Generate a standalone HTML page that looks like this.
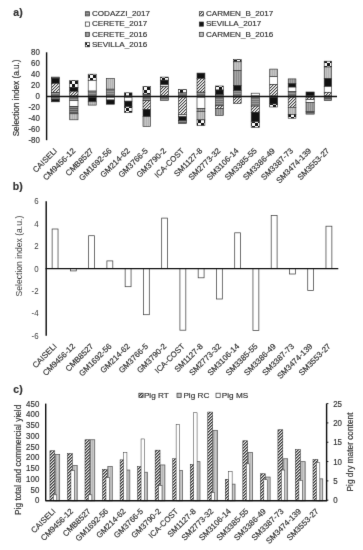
<!DOCTYPE html><html><head><meta charset="utf-8"><title>Selection index charts</title>
<style>html,body{margin:0;padding:0;background:#fff;}body{width:363px;height:550px;overflow:hidden;}svg{display:block;}text{font-family:"Liberation Sans", Arial, sans-serif;fill:#333;stroke:#333;stroke-width:0.18px;}text.lt{fill:#3c3c3c;stroke:none;}</style></head><body>
<svg width="363" height="550" viewBox="0 0 363 550">
<defs>
<pattern id="pH" patternUnits="userSpaceOnUse" width="3" height="3"><rect x="0" y="0" width="1" height="1" fill="#444"/><rect x="1" y="0" width="1" height="1" fill="#c4c4c4"/><rect x="2" y="0" width="1" height="1" fill="#f8f8f8"/><rect x="0" y="1" width="1" height="1" fill="#c4c4c4"/><rect x="1" y="1" width="1" height="1" fill="#f8f8f8"/><rect x="2" y="1" width="1" height="1" fill="#444"/><rect x="0" y="2" width="1" height="1" fill="#f8f8f8"/><rect x="1" y="2" width="1" height="1" fill="#444"/><rect x="2" y="2" width="1" height="1" fill="#c4c4c4"/></pattern><pattern id="pHc" patternUnits="userSpaceOnUse" width="3" height="3"><rect x="0" y="0" width="1" height="1" fill="#383838"/><rect x="1" y="0" width="1" height="1" fill="#8c8c8c"/><rect x="2" y="0" width="1" height="1" fill="#ececec"/><rect x="0" y="1" width="1" height="1" fill="#8c8c8c"/><rect x="1" y="1" width="1" height="1" fill="#ececec"/><rect x="2" y="1" width="1" height="1" fill="#383838"/><rect x="0" y="2" width="1" height="1" fill="#ececec"/><rect x="1" y="2" width="1" height="1" fill="#383838"/><rect x="2" y="2" width="1" height="1" fill="#8c8c8c"/></pattern>
<pattern id="pC" patternUnits="userSpaceOnUse" width="6" height="6">
  <rect width="6" height="6" fill="#fff"/><rect width="3" height="3" fill="#111"/><rect x="3" y="3" width="3" height="3" fill="#111"/>
</pattern>
<pattern id="pG" patternUnits="userSpaceOnUse" width="2" height="2">
  <rect width="2" height="2" fill="#989898"/><rect width="2" height="1" fill="#767676"/>
</pattern>
<pattern id="pM" patternUnits="userSpaceOnUse" width="2" height="2">
  <rect width="2" height="2" fill="#a6a6a6"/><rect width="1" height="2" fill="#8e8e8e"/>
</pattern>
<pattern id="pD" patternUnits="userSpaceOnUse" width="2" height="2">
  <rect width="2" height="2" fill="#8a8a8a"/><rect width="2" height="1" fill="#5a5a5a"/>
</pattern>
<pattern id="pL" patternUnits="userSpaceOnUse" width="2" height="2">
  <rect width="2" height="2" fill="#c4c4c4"/><rect width="1" height="2" fill="#b2b2b2"/>
</pattern>
<pattern id="pR" patternUnits="userSpaceOnUse" width="2" height="2">
  <rect width="2" height="2" fill="#cbcbcb"/><rect width="1" height="2" fill="#b8b8b8"/>
</pattern>
<filter id="soft" x="0" y="0" width="100%" height="100%" color-interpolation-filters="sRGB"><feConvolveMatrix order="3" kernelMatrix="0.0052 0.0619 0.0052 0.0619 0.7314 0.0619 0.0052 0.0619 0.0052" edgeMode="duplicate"/></filter></defs>
<rect width="363" height="550" fill="#fff"/>
<g filter="url(#soft)">
<rect width="363" height="550" fill="#fff"/>
<text x="13.3" y="16.3" font-size="10.5" font-weight="bold">a)</text>
<rect x="85.3" y="11.7" width="4.2" height="4.2" fill="url(#pG)" stroke="#333" stroke-width="0.7"/>
<text x="91.9" y="15.9" font-size="8.1">CODAZZI_2017</text>
<rect x="85.3" y="22" width="4.2" height="4.2" fill="#fff" stroke="#333" stroke-width="0.7"/>
<text x="91.9" y="26.2" font-size="8.1">CERETE_2017</text>
<rect x="85.3" y="32.3" width="4.2" height="4.2" fill="url(#pM)" stroke="#333" stroke-width="0.7"/>
<text x="91.9" y="36.5" font-size="8.1">CERETE_2016</text>
<rect x="85.3" y="42.6" width="4.2" height="4.2" fill="url(#pC)" stroke="#333" stroke-width="0.7"/>
<text x="91.9" y="46.8" font-size="8.1">SEVILLA_2016</text>
<rect x="199.3" y="11.7" width="4.2" height="4.2" fill="url(#pH)" stroke="#333" stroke-width="0.7"/>
<text x="205.9" y="15.9" font-size="8.1">CARMEN_B_2017</text>
<rect x="199.3" y="22" width="4.2" height="4.2" fill="#111" stroke="#333" stroke-width="0.7"/>
<text x="205.9" y="26.2" font-size="8.1">SEVILLA_2017</text>
<rect x="199.3" y="32.3" width="4.2" height="4.2" fill="url(#pL)" stroke="#333" stroke-width="0.7"/>
<text x="205.9" y="36.5" font-size="8.1">CARMEN_B_2016</text>
<text transform="translate(39.9,55.38) scale(0.92,1)" font-size="8.6" text-anchor="end">80</text>
<text transform="translate(39.9,66.37) scale(0.92,1)" font-size="8.6" text-anchor="end">60</text>
<text transform="translate(39.9,77.35) scale(0.92,1)" font-size="8.6" text-anchor="end">40</text>
<text transform="translate(39.9,88.34) scale(0.92,1)" font-size="8.6" text-anchor="end">20</text>
<text transform="translate(39.9,99.33) scale(0.92,1)" font-size="8.6" text-anchor="end">0</text>
<text transform="translate(39.9,110.32) scale(0.92,1)" font-size="8.6" text-anchor="end">-20</text>
<text transform="translate(39.9,121.3) scale(0.92,1)" font-size="8.6" text-anchor="end">-40</text>
<text transform="translate(39.9,132.29) scale(0.92,1)" font-size="8.6" text-anchor="end">-60</text>
<text transform="translate(39.9,143.28) scale(0.92,1)" font-size="8.6" text-anchor="end">-80</text>
<text transform="translate(19.2,97.9) rotate(-90)" font-size="8.2" text-anchor="middle">Selection index (a.u.)</text>
<rect x="51.4" y="77.1" width="7.9" height="1.1" fill="url(#pD)" stroke="#333" stroke-width="0.65"/>
<rect x="51.4" y="78.2" width="7.9" height="5.2" fill="#111" stroke="#333" stroke-width="0.65"/>
<rect x="51.4" y="83.4" width="7.9" height="9.1" fill="url(#pH)" stroke="#333" stroke-width="0.65"/>
<rect x="51.4" y="92.5" width="7.9" height="3.3" fill="url(#pG)" stroke="#333" stroke-width="0.65"/>
<rect x="51.4" y="97.2" width="7.9" height="2.1" fill="url(#pG)" stroke="#333" stroke-width="0.65"/>
<rect x="51.4" y="99.3" width="7.9" height="2.5" fill="#111" stroke="#333" stroke-width="0.65"/>
<rect x="69.7" y="80.4" width="8.3" height="7" fill="url(#pC)" stroke="#333" stroke-width="0.65"/>
<rect x="69.7" y="87.4" width="8.3" height="3.9" fill="#111" stroke="#333" stroke-width="0.65"/>
<rect x="69.7" y="91.3" width="8.3" height="4.5" fill="url(#pH)" stroke="#333" stroke-width="0.65"/>
<rect x="69.7" y="97.2" width="8.3" height="3.3" fill="url(#pG)" stroke="#333" stroke-width="0.65"/>
<rect x="69.7" y="100.5" width="8.3" height="6" fill="#fff" stroke="#333" stroke-width="0.65"/>
<rect x="69.7" y="106.5" width="8.3" height="7.3" fill="url(#pD)" stroke="#333" stroke-width="0.65"/>
<rect x="69.7" y="113.8" width="8.3" height="6" fill="url(#pL)" stroke="#333" stroke-width="0.65"/>
<rect x="88.2" y="74.2" width="8" height="6.1" fill="url(#pC)" stroke="#333" stroke-width="0.65"/>
<rect x="88.2" y="80.3" width="8" height="10.8" fill="#fff" stroke="#333" stroke-width="0.65"/>
<rect x="88.2" y="91.1" width="8" height="4.7" fill="url(#pG)" stroke="#333" stroke-width="0.65"/>
<rect x="88.2" y="97.2" width="8" height="4.6" fill="#111" stroke="#333" stroke-width="0.65"/>
<rect x="88.2" y="101.8" width="8" height="3.3" fill="url(#pL)" stroke="#333" stroke-width="0.65"/>
<rect x="106.3" y="78.4" width="8.1" height="10.8" fill="url(#pL)" stroke="#333" stroke-width="0.65"/>
<rect x="106.3" y="89.2" width="8.1" height="6.6" fill="url(#pG)" stroke="#333" stroke-width="0.65"/>
<rect x="106.3" y="97.2" width="8.1" height="2.8" fill="#fff" stroke="#333" stroke-width="0.65"/>
<rect x="106.3" y="100" width="8.1" height="4.2" fill="#111" stroke="#333" stroke-width="0.65"/>
<rect x="124.5" y="92.8" width="7.5" height="3" fill="url(#pC)" stroke="#333" stroke-width="0.65"/>
<rect x="124.5" y="97.2" width="7.5" height="4" fill="#fff" stroke="#333" stroke-width="0.65"/>
<rect x="124.5" y="101.2" width="7.5" height="5.6" fill="#111" stroke="#333" stroke-width="0.65"/>
<rect x="124.5" y="106.8" width="7.5" height="5.6" fill="url(#pC)" stroke="#333" stroke-width="0.65"/>
<rect x="143" y="86.5" width="7.4" height="7.7" fill="url(#pC)" stroke="#333" stroke-width="0.65"/>
<rect x="143" y="94.2" width="7.4" height="1.6" fill="url(#pG)" stroke="#333" stroke-width="0.65"/>
<rect x="143" y="97.2" width="7.4" height="3.5" fill="url(#pG)" stroke="#333" stroke-width="0.65"/>
<rect x="143" y="100.7" width="7.4" height="8.9" fill="url(#pH)" stroke="#333" stroke-width="0.65"/>
<rect x="143" y="109.6" width="7.4" height="7.1" fill="#111" stroke="#333" stroke-width="0.65"/>
<rect x="143" y="116.7" width="7.4" height="9.8" fill="url(#pL)" stroke="#333" stroke-width="0.65"/>
<rect x="160.3" y="77.1" width="8.1" height="3.1" fill="url(#pC)" stroke="#333" stroke-width="0.65"/>
<rect x="160.3" y="80.2" width="8.1" height="4.6" fill="#111" stroke="#333" stroke-width="0.65"/>
<rect x="160.3" y="84.8" width="8.1" height="2" fill="#fff" stroke="#333" stroke-width="0.65"/>
<rect x="160.3" y="86.8" width="8.1" height="9" fill="url(#pH)" stroke="#333" stroke-width="0.65"/>
<rect x="160.3" y="97.2" width="8.1" height="3.1" fill="url(#pG)" stroke="#333" stroke-width="0.65"/>
<rect x="178.6" y="89.5" width="7.9" height="3.4" fill="url(#pC)" stroke="#333" stroke-width="0.65"/>
<rect x="178.6" y="92.9" width="7.9" height="2.9" fill="url(#pG)" stroke="#333" stroke-width="0.65"/>
<rect x="178.6" y="97.2" width="7.9" height="17.6" fill="url(#pH)" stroke="#333" stroke-width="0.65"/>
<rect x="178.6" y="114.8" width="7.9" height="2" fill="#fff" stroke="#333" stroke-width="0.65"/>
<rect x="178.6" y="116.8" width="7.9" height="3.6" fill="#111" stroke="#333" stroke-width="0.65"/>
<rect x="178.6" y="120.4" width="7.9" height="3.1" fill="url(#pD)" stroke="#333" stroke-width="0.65"/>
<rect x="197" y="73.1" width="7.9" height="5.3" fill="#111" stroke="#333" stroke-width="0.65"/>
<rect x="197" y="78.4" width="7.9" height="13.8" fill="url(#pH)" stroke="#333" stroke-width="0.65"/>
<rect x="197" y="92.2" width="7.9" height="3.6" fill="url(#pG)" stroke="#333" stroke-width="0.65"/>
<rect x="197" y="97.2" width="7.9" height="11.4" fill="#fff" stroke="#333" stroke-width="0.65"/>
<rect x="197" y="108.6" width="7.9" height="2.8" fill="url(#pM)" stroke="#333" stroke-width="0.65"/>
<rect x="197" y="111.4" width="7.9" height="8.5" fill="url(#pL)" stroke="#333" stroke-width="0.65"/>
<rect x="197" y="119.9" width="7.9" height="5.6" fill="url(#pC)" stroke="#333" stroke-width="0.65"/>
<rect x="215.4" y="86" width="7.9" height="4" fill="url(#pC)" stroke="#333" stroke-width="0.65"/>
<rect x="215.4" y="90" width="7.9" height="4.5" fill="#111" stroke="#333" stroke-width="0.65"/>
<rect x="215.4" y="94.5" width="7.9" height="1.3" fill="url(#pG)" stroke="#333" stroke-width="0.65"/>
<rect x="215.4" y="97.2" width="7.9" height="8.6" fill="url(#pG)" stroke="#333" stroke-width="0.65"/>
<rect x="215.4" y="105.8" width="7.9" height="2.8" fill="url(#pH)" stroke="#333" stroke-width="0.65"/>
<rect x="215.4" y="108.6" width="7.9" height="6.8" fill="url(#pM)" stroke="#333" stroke-width="0.65"/>
<rect x="233.5" y="59.4" width="7.7" height="2.4" fill="url(#pC)" stroke="#333" stroke-width="0.65"/>
<rect x="233.5" y="61.8" width="7.7" height="8.9" fill="url(#pL)" stroke="#333" stroke-width="0.65"/>
<rect x="233.5" y="70.7" width="7.7" height="15" fill="url(#pM)" stroke="#333" stroke-width="0.65"/>
<rect x="233.5" y="85.7" width="7.7" height="5" fill="#111" stroke="#333" stroke-width="0.65"/>
<rect x="233.5" y="90.7" width="7.7" height="5.1" fill="url(#pG)" stroke="#333" stroke-width="0.65"/>
<rect x="233.5" y="97.2" width="7.7" height="6.2" fill="url(#pH)" stroke="#333" stroke-width="0.65"/>
<rect x="251.2" y="93.2" width="8.2" height="2.6" fill="#fff" stroke="#333" stroke-width="0.65"/>
<rect x="251.2" y="97.2" width="8.2" height="8.9" fill="url(#pG)" stroke="#333" stroke-width="0.65"/>
<rect x="251.2" y="106.1" width="8.2" height="6.2" fill="url(#pH)" stroke="#333" stroke-width="0.65"/>
<rect x="251.2" y="112.3" width="8.2" height="9.5" fill="#111" stroke="#333" stroke-width="0.65"/>
<rect x="251.2" y="121.8" width="8.2" height="5.5" fill="url(#pC)" stroke="#333" stroke-width="0.65"/>
<rect x="269.7" y="69.1" width="7.9" height="7.6" fill="url(#pL)" stroke="#333" stroke-width="0.65"/>
<rect x="269.7" y="76.7" width="7.9" height="7.7" fill="#fff" stroke="#333" stroke-width="0.65"/>
<rect x="269.7" y="84.4" width="7.9" height="11.4" fill="url(#pH)" stroke="#333" stroke-width="0.65"/>
<rect x="269.7" y="97.2" width="7.9" height="6.8" fill="#111" stroke="#333" stroke-width="0.65"/>
<rect x="269.7" y="104" width="7.9" height="3" fill="url(#pC)" stroke="#333" stroke-width="0.65"/>
<rect x="288.2" y="78.9" width="7.7" height="4.9" fill="url(#pM)" stroke="#333" stroke-width="0.65"/>
<rect x="288.2" y="83.8" width="7.7" height="3.3" fill="#111" stroke="#333" stroke-width="0.65"/>
<rect x="288.2" y="87.1" width="7.7" height="4.4" fill="#fff" stroke="#333" stroke-width="0.65"/>
<rect x="288.2" y="91.5" width="7.7" height="4.3" fill="url(#pG)" stroke="#333" stroke-width="0.65"/>
<rect x="288.2" y="97.2" width="7.7" height="10.1" fill="url(#pH)" stroke="#333" stroke-width="0.65"/>
<rect x="288.2" y="107.3" width="7.7" height="7.1" fill="url(#pL)" stroke="#333" stroke-width="0.65"/>
<rect x="288.2" y="114.4" width="7.7" height="3.8" fill="url(#pC)" stroke="#333" stroke-width="0.65"/>
<rect x="306" y="92" width="8.2" height="3.8" fill="#111" stroke="#333" stroke-width="0.65"/>
<rect x="306" y="97.2" width="8.2" height="2.4" fill="url(#pH)" stroke="#333" stroke-width="0.65"/>
<rect x="306" y="99.6" width="8.2" height="2.9" fill="#fff" stroke="#333" stroke-width="0.65"/>
<rect x="306" y="102.5" width="8.2" height="9.3" fill="url(#pM)" stroke="#333" stroke-width="0.65"/>
<rect x="306" y="111.8" width="8.2" height="2.3" fill="url(#pD)" stroke="#333" stroke-width="0.65"/>
<rect x="324.2" y="61.2" width="7.4" height="5.8" fill="url(#pC)" stroke="#333" stroke-width="0.65"/>
<rect x="324.2" y="67" width="7.4" height="11.7" fill="url(#pL)" stroke="#333" stroke-width="0.65"/>
<rect x="324.2" y="78.7" width="7.4" height="7.8" fill="#111" stroke="#333" stroke-width="0.65"/>
<rect x="324.2" y="86.5" width="7.4" height="5.8" fill="#fff" stroke="#333" stroke-width="0.65"/>
<rect x="324.2" y="92.3" width="7.4" height="3.5" fill="url(#pH)" stroke="#333" stroke-width="0.65"/>
<rect x="324.2" y="97.2" width="7.4" height="3.2" fill="url(#pD)" stroke="#333" stroke-width="0.65"/>
<line x1="46.6" y1="52.3" x2="46.6" y2="140.2" stroke="#111" stroke-width="1.45"/>
<line x1="46" y1="96.5" x2="337" y2="96.5" stroke="#111" stroke-width="1.45"/>
<text transform="translate(57.67,151.3) rotate(-45)" font-size="8" text-anchor="end">CAISELI</text>
<text transform="translate(75.83,151.3) rotate(-45)" font-size="8" text-anchor="end">CM9456-12</text>
<text transform="translate(93.97,151.3) rotate(-45)" font-size="8" text-anchor="end">CMB8527</text>
<text transform="translate(112.12,151.3) rotate(-45)" font-size="8" text-anchor="end">GM1692-56</text>
<text transform="translate(130.28,151.3) rotate(-45)" font-size="8" text-anchor="end">GM214-62</text>
<text transform="translate(148.42,151.3) rotate(-45)" font-size="8" text-anchor="end">GM3766-5</text>
<text transform="translate(166.57,151.3) rotate(-45)" font-size="8" text-anchor="end">GM3790-2</text>
<text transform="translate(184.72,151.3) rotate(-45)" font-size="8" text-anchor="end">ICA-COST</text>
<text transform="translate(202.87,151.3) rotate(-45)" font-size="8" text-anchor="end">SM1127-8</text>
<text transform="translate(221.02,151.3) rotate(-45)" font-size="8" text-anchor="end">SM2773-32</text>
<text transform="translate(239.17,151.3) rotate(-45)" font-size="8" text-anchor="end">SM3106-14</text>
<text transform="translate(257.32,151.3) rotate(-45)" font-size="8" text-anchor="end">SM3385-55</text>
<text transform="translate(275.47,151.3) rotate(-45)" font-size="8" text-anchor="end">SM3386-49</text>
<text transform="translate(293.62,151.3) rotate(-45)" font-size="8" text-anchor="end">SM3387-73</text>
<text transform="translate(311.77,151.3) rotate(-45)" font-size="8" text-anchor="end">SM3474-139</text>
<text transform="translate(329.93,151.3) rotate(-45)" font-size="8" text-anchor="end">SM3553-27</text>
<text x="12.8" y="190.3" font-size="10.5" font-weight="bold">b)</text>
<text class="lt" transform="translate(38.6,204.38) scale(0.92,1)" font-size="8.6" text-anchor="end">6</text>
<text class="lt" transform="translate(38.6,226.8) scale(0.92,1)" font-size="8.6" text-anchor="end">4</text>
<text class="lt" transform="translate(38.6,249.21) scale(0.92,1)" font-size="8.6" text-anchor="end">2</text>
<text class="lt" transform="translate(38.6,271.63) scale(0.92,1)" font-size="8.6" text-anchor="end">0</text>
<text class="lt" transform="translate(38.6,294.05) scale(0.92,1)" font-size="8.6" text-anchor="end">-2</text>
<text class="lt" transform="translate(38.6,316.46) scale(0.92,1)" font-size="8.6" text-anchor="end">-4</text>
<text class="lt" transform="translate(38.6,338.88) scale(0.92,1)" font-size="8.6" text-anchor="end">-6</text>
<text transform="translate(21.9,256.1) rotate(-90)" class="lt" font-size="8.6" text-anchor="middle">Selection index (a.u.)</text>
<rect x="52.13" y="229" width="5.9" height="39.6" fill="#fff" stroke="#444" stroke-width="0.75"/>
<rect x="70.38" y="268.6" width="5.9" height="2.3" fill="#fff" stroke="#444" stroke-width="0.75"/>
<rect x="88.64" y="235.7" width="5.9" height="32.9" fill="#fff" stroke="#444" stroke-width="0.75"/>
<rect x="106.9" y="260.9" width="5.9" height="7.7" fill="#fff" stroke="#444" stroke-width="0.75"/>
<rect x="125.15" y="268.6" width="5.9" height="18.1" fill="#fff" stroke="#444" stroke-width="0.75"/>
<rect x="143.41" y="268.6" width="5.9" height="46.1" fill="#fff" stroke="#444" stroke-width="0.75"/>
<rect x="161.67" y="218.1" width="5.9" height="50.5" fill="#fff" stroke="#444" stroke-width="0.75"/>
<rect x="179.92" y="268.6" width="5.9" height="61.6" fill="#fff" stroke="#444" stroke-width="0.75"/>
<rect x="198.18" y="268.6" width="5.9" height="9.2" fill="#fff" stroke="#444" stroke-width="0.75"/>
<rect x="216.43" y="268.6" width="5.9" height="30.4" fill="#fff" stroke="#444" stroke-width="0.75"/>
<rect x="234.69" y="232.8" width="5.9" height="35.8" fill="#fff" stroke="#444" stroke-width="0.75"/>
<rect x="252.95" y="268.6" width="5.9" height="61.9" fill="#fff" stroke="#444" stroke-width="0.75"/>
<rect x="271.2" y="215.6" width="5.9" height="53" fill="#fff" stroke="#444" stroke-width="0.75"/>
<rect x="289.46" y="268.6" width="5.9" height="5.4" fill="#fff" stroke="#444" stroke-width="0.75"/>
<rect x="307.72" y="268.6" width="5.9" height="22" fill="#fff" stroke="#444" stroke-width="0.75"/>
<rect x="325.97" y="226.2" width="5.9" height="42.4" fill="#fff" stroke="#444" stroke-width="0.75"/>
<line x1="46.2" y1="201.3" x2="46.2" y2="335.8" stroke="#111" stroke-width="1.45"/>
<line x1="45.6" y1="268.6" x2="338.3" y2="268.6" stroke="#111" stroke-width="1.45"/>
<text transform="translate(57.33,346.8) rotate(-45)" font-size="8" text-anchor="end">CAISELI</text>
<text transform="translate(75.58,346.8) rotate(-45)" font-size="8" text-anchor="end">CM9456-12</text>
<text transform="translate(93.84,346.8) rotate(-45)" font-size="8" text-anchor="end">CMB8527</text>
<text transform="translate(112.1,346.8) rotate(-45)" font-size="8" text-anchor="end">GM1692-56</text>
<text transform="translate(130.35,346.8) rotate(-45)" font-size="8" text-anchor="end">GM214-62</text>
<text transform="translate(148.61,346.8) rotate(-45)" font-size="8" text-anchor="end">GM3766-5</text>
<text transform="translate(166.87,346.8) rotate(-45)" font-size="8" text-anchor="end">GM3790-2</text>
<text transform="translate(185.12,346.8) rotate(-45)" font-size="8" text-anchor="end">ICA-COST</text>
<text transform="translate(203.38,346.8) rotate(-45)" font-size="8" text-anchor="end">SM1127-8</text>
<text transform="translate(221.63,346.8) rotate(-45)" font-size="8" text-anchor="end">SM2773-32</text>
<text transform="translate(239.89,346.8) rotate(-45)" font-size="8" text-anchor="end">SM3106-14</text>
<text transform="translate(258.15,346.8) rotate(-45)" font-size="8" text-anchor="end">SM3385-55</text>
<text transform="translate(276.4,346.8) rotate(-45)" font-size="8" text-anchor="end">SM3386-49</text>
<text transform="translate(294.66,346.8) rotate(-45)" font-size="8" text-anchor="end">SM3387-73</text>
<text transform="translate(312.92,346.8) rotate(-45)" font-size="8" text-anchor="end">SM3474-139</text>
<text transform="translate(331.17,346.8) rotate(-45)" font-size="8" text-anchor="end">SM3553-27</text>
<text x="13.3" y="393.1" font-size="10.5" font-weight="bold">c)</text>
<text transform="translate(39.3,406.68) scale(0.92,1)" font-size="8.6" text-anchor="end">450</text>
<text transform="translate(39.3,417.41) scale(0.92,1)" font-size="8.6" text-anchor="end">400</text>
<text transform="translate(39.3,428.15) scale(0.92,1)" font-size="8.6" text-anchor="end">350</text>
<text transform="translate(39.3,438.88) scale(0.92,1)" font-size="8.6" text-anchor="end">300</text>
<text transform="translate(39.3,449.61) scale(0.92,1)" font-size="8.6" text-anchor="end">250</text>
<text transform="translate(39.3,460.35) scale(0.92,1)" font-size="8.6" text-anchor="end">200</text>
<text transform="translate(39.3,471.08) scale(0.92,1)" font-size="8.6" text-anchor="end">150</text>
<text transform="translate(39.3,481.81) scale(0.92,1)" font-size="8.6" text-anchor="end">100</text>
<text transform="translate(39.3,492.55) scale(0.92,1)" font-size="8.6" text-anchor="end">50</text>
<text transform="translate(39.3,503.28) scale(0.92,1)" font-size="8.6" text-anchor="end">0</text>
<text transform="translate(333.2,406.68) scale(0.92,1)" font-size="8.6" text-anchor="start">25</text>
<line x1="326.6" y1="403.6" x2="328.4" y2="403.6" stroke="#222" stroke-width="1"/>
<text transform="translate(333.2,426) scale(0.92,1)" font-size="8.6" text-anchor="start">20</text>
<line x1="326.6" y1="422.92" x2="328.4" y2="422.92" stroke="#222" stroke-width="1"/>
<text transform="translate(333.2,445.32) scale(0.92,1)" font-size="8.6" text-anchor="start">15</text>
<line x1="326.6" y1="442.24" x2="328.4" y2="442.24" stroke="#222" stroke-width="1"/>
<text transform="translate(333.2,464.64) scale(0.92,1)" font-size="8.6" text-anchor="start">10</text>
<line x1="326.6" y1="461.56" x2="328.4" y2="461.56" stroke="#222" stroke-width="1"/>
<text transform="translate(333.2,483.96) scale(0.92,1)" font-size="8.6" text-anchor="start">5</text>
<line x1="326.6" y1="480.88" x2="328.4" y2="480.88" stroke="#222" stroke-width="1"/>
<text transform="translate(333.2,503.28) scale(0.92,1)" font-size="8.6" text-anchor="start">0</text>
<line x1="326.6" y1="500.2" x2="328.4" y2="500.2" stroke="#222" stroke-width="1"/>
<text transform="translate(21.0,459.8) rotate(-90)" font-size="8.3" text-anchor="middle">Pig total and commercial yield</text>
<text transform="translate(353.2,452) rotate(-90)" font-size="8.3" text-anchor="middle">Pig dry mater content</text>
<rect x="138.9" y="393.2" width="4.2" height="4.2" fill="url(#pHc)" stroke="#333" stroke-width="0.7"/>
<text transform="translate(143.9,397.5) scale(1.08,1)" font-size="7.6">Pig RT</text>
<rect x="177" y="393.2" width="4.2" height="4.2" fill="url(#pR)" stroke="#333" stroke-width="0.7"/>
<text transform="translate(183.4,397.5) scale(1.08,1)" font-size="7.6">Pig RC</text>
<rect x="216" y="393.2" width="4.2" height="4.2" fill="#fff" stroke="#333" stroke-width="0.7"/>
<text transform="translate(221.8,397.5) scale(1.08,1)" font-size="7.6">Pig MS</text>
<rect x="49.92" y="450.75" width="4.9" height="50.05" fill="url(#pHc)" stroke="#333" stroke-width="0.5"/>
<rect x="55.22" y="454.55" width="4.45" height="46.25" fill="url(#pR)" stroke="#5a5a5a" stroke-width="0.75"/>
<rect x="53.37" y="494.85" width="3.4" height="5.95" fill="#fff" stroke="#333" stroke-width="0.5"/>
<rect x="67.46" y="453.45" width="4.9" height="47.35" fill="url(#pHc)" stroke="#333" stroke-width="0.5"/>
<rect x="72.76" y="465.55" width="4.45" height="35.25" fill="url(#pR)" stroke="#5a5a5a" stroke-width="0.75"/>
<rect x="70.91" y="470.55" width="3.4" height="30.25" fill="#fff" stroke="#333" stroke-width="0.5"/>
<rect x="84.99" y="439.75" width="4.9" height="61.05" fill="url(#pHc)" stroke="#333" stroke-width="0.5"/>
<rect x="90.29" y="439.75" width="4.45" height="61.05" fill="url(#pR)" stroke="#5a5a5a" stroke-width="0.75"/>
<rect x="88.44" y="494.85" width="3.4" height="5.95" fill="#fff" stroke="#333" stroke-width="0.5"/>
<rect x="102.53" y="469.25" width="4.9" height="31.55" fill="url(#pHc)" stroke="#333" stroke-width="0.5"/>
<rect x="107.83" y="466.55" width="4.45" height="34.25" fill="url(#pR)" stroke="#5a5a5a" stroke-width="0.75"/>
<rect x="105.98" y="477.55" width="3.4" height="23.25" fill="#fff" stroke="#333" stroke-width="0.5"/>
<rect x="120.07" y="459.85" width="4.9" height="40.95" fill="url(#pHc)" stroke="#333" stroke-width="0.5"/>
<rect x="125.37" y="470.05" width="4.45" height="30.75" fill="url(#pR)" stroke="#5a5a5a" stroke-width="0.75"/>
<rect x="123.52" y="452.45" width="3.4" height="48.35" fill="#fff" stroke="#333" stroke-width="0.5"/>
<rect x="137.61" y="466.55" width="4.9" height="34.25" fill="url(#pHc)" stroke="#333" stroke-width="0.5"/>
<rect x="142.91" y="472.25" width="4.45" height="28.55" fill="url(#pR)" stroke="#5a5a5a" stroke-width="0.75"/>
<rect x="141.06" y="438.95" width="3.4" height="61.85" fill="#fff" stroke="#333" stroke-width="0.5"/>
<rect x="155.14" y="450.15" width="4.9" height="50.65" fill="url(#pHc)" stroke="#333" stroke-width="0.5"/>
<rect x="160.44" y="464.95" width="4.45" height="35.85" fill="url(#pR)" stroke="#5a5a5a" stroke-width="0.75"/>
<rect x="158.59" y="485.45" width="3.4" height="15.35" fill="#fff" stroke="#333" stroke-width="0.5"/>
<rect x="172.68" y="458.75" width="4.9" height="42.05" fill="url(#pHc)" stroke="#333" stroke-width="0.5"/>
<rect x="177.98" y="470.45" width="4.45" height="30.35" fill="url(#pR)" stroke="#5a5a5a" stroke-width="0.75"/>
<rect x="176.13" y="424.65" width="3.4" height="76.15" fill="#fff" stroke="#333" stroke-width="0.5"/>
<rect x="190.22" y="464.35" width="4.9" height="36.45" fill="url(#pHc)" stroke="#333" stroke-width="0.5"/>
<rect x="195.52" y="461.65" width="4.45" height="39.15" fill="url(#pR)" stroke="#5a5a5a" stroke-width="0.75"/>
<rect x="193.67" y="412.75" width="3.4" height="88.05" fill="#fff" stroke="#333" stroke-width="0.5"/>
<rect x="207.76" y="412.05" width="4.9" height="88.75" fill="url(#pHc)" stroke="#333" stroke-width="0.5"/>
<rect x="213.06" y="430.35" width="4.45" height="70.45" fill="url(#pR)" stroke="#5a5a5a" stroke-width="0.75"/>
<rect x="211.21" y="492.55" width="3.4" height="8.25" fill="#fff" stroke="#333" stroke-width="0.5"/>
<rect x="225.29" y="479.25" width="4.9" height="21.55" fill="url(#pHc)" stroke="#333" stroke-width="0.5"/>
<rect x="230.59" y="484.15" width="4.45" height="16.65" fill="url(#pR)" stroke="#5a5a5a" stroke-width="0.75"/>
<rect x="228.74" y="471.55" width="3.4" height="29.25" fill="#fff" stroke="#333" stroke-width="0.5"/>
<rect x="242.83" y="440.75" width="4.9" height="60.05" fill="url(#pHc)" stroke="#333" stroke-width="0.5"/>
<rect x="248.13" y="452.45" width="4.45" height="48.35" fill="url(#pR)" stroke="#5a5a5a" stroke-width="0.75"/>
<rect x="246.28" y="463.85" width="3.4" height="36.95" fill="#fff" stroke="#333" stroke-width="0.5"/>
<rect x="260.37" y="473.75" width="4.9" height="27.05" fill="url(#pHc)" stroke="#333" stroke-width="0.5"/>
<rect x="265.67" y="477.05" width="4.45" height="23.75" fill="url(#pR)" stroke="#5a5a5a" stroke-width="0.75"/>
<rect x="263.82" y="479.75" width="3.4" height="21.05" fill="#fff" stroke="#333" stroke-width="0.5"/>
<rect x="277.91" y="429.75" width="4.9" height="71.05" fill="url(#pHc)" stroke="#333" stroke-width="0.5"/>
<rect x="283.21" y="458.75" width="4.45" height="42.05" fill="url(#pR)" stroke="#5a5a5a" stroke-width="0.75"/>
<rect x="281.36" y="470.05" width="3.4" height="30.75" fill="#fff" stroke="#333" stroke-width="0.5"/>
<rect x="295.44" y="449.55" width="4.9" height="51.25" fill="url(#pHc)" stroke="#333" stroke-width="0.5"/>
<rect x="300.74" y="461.65" width="4.45" height="39.15" fill="url(#pR)" stroke="#5a5a5a" stroke-width="0.75"/>
<rect x="298.89" y="480.35" width="3.4" height="20.45" fill="#fff" stroke="#333" stroke-width="0.5"/>
<rect x="312.98" y="459.45" width="4.9" height="41.35" fill="url(#pHc)" stroke="#333" stroke-width="0.5"/>
<rect x="318.28" y="478.85" width="4.45" height="21.95" fill="url(#pR)" stroke="#5a5a5a" stroke-width="0.75"/>
<rect x="316.43" y="462.75" width="3.4" height="38.05" fill="#fff" stroke="#333" stroke-width="0.5"/>
<line x1="45.7" y1="403.6" x2="45.7" y2="500.8" stroke="#111" stroke-width="1.45"/>
<line x1="326.6" y1="403.6" x2="326.6" y2="500.8" stroke="#111" stroke-width="1.45"/>
<line x1="45.4" y1="500.8" x2="327.2" y2="500.8" stroke="#111" stroke-width="1.45"/>
<text transform="translate(56.07,511.8) rotate(-45)" font-size="8" text-anchor="end">CAISELI</text>
<text transform="translate(73.61,511.8) rotate(-45)" font-size="8" text-anchor="end">CM9456-12</text>
<text transform="translate(91.14,511.8) rotate(-45)" font-size="8" text-anchor="end">CMB8527</text>
<text transform="translate(108.68,511.8) rotate(-45)" font-size="8" text-anchor="end">GM1692-56</text>
<text transform="translate(126.22,511.8) rotate(-45)" font-size="8" text-anchor="end">GM214-62</text>
<text transform="translate(143.76,511.8) rotate(-45)" font-size="8" text-anchor="end">GM3766-5</text>
<text transform="translate(161.29,511.8) rotate(-45)" font-size="8" text-anchor="end">GM3790-2</text>
<text transform="translate(178.83,511.8) rotate(-45)" font-size="8" text-anchor="end">ICA-COST</text>
<text transform="translate(196.37,511.8) rotate(-45)" font-size="8" text-anchor="end">SM1127-8</text>
<text transform="translate(213.91,511.8) rotate(-45)" font-size="8" text-anchor="end">SM2773-32</text>
<text transform="translate(231.44,511.8) rotate(-45)" font-size="8" text-anchor="end">SM3106-14</text>
<text transform="translate(248.98,511.8) rotate(-45)" font-size="8" text-anchor="end">SM3385-55</text>
<text transform="translate(266.52,511.8) rotate(-45)" font-size="8" text-anchor="end">SM3386-49</text>
<text transform="translate(284.06,511.8) rotate(-45)" font-size="8" text-anchor="end">SM3387-73</text>
<text transform="translate(301.59,511.8) rotate(-45)" font-size="8" text-anchor="end">SM3474-139</text>
<text transform="translate(319.13,511.8) rotate(-45)" font-size="8" text-anchor="end">SM3553-27</text>
</g>
</svg></body></html>
